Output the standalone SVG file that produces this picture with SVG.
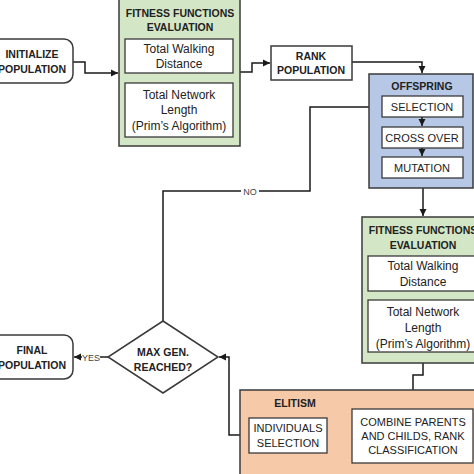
<svg xmlns="http://www.w3.org/2000/svg" width="474" height="474" viewBox="0 0 474 474">
<defs>
<marker id="ah" markerWidth="8" markerHeight="8" refX="7" refY="4" orient="auto" markerUnits="userSpaceOnUse">
<path d="M0,0.5 L7,4 L0,7.5 Z" fill="#1a1a1a"/>
</marker>
</defs>
<style>
.box{stroke:#3a3a3a;stroke-width:1.5}
.inner{fill:#ffffff;stroke:#3a3a3a;stroke-width:1.3}
.green{fill:#d3e6c6}
.blue{fill:#b6c8e6}
.orange{fill:#f6c9a8}
.white{fill:#ffffff}
.t{font-family:"Liberation Sans",Arial,sans-serif;font-size:11px;fill:#222;text-anchor:middle}
.m{font-size:12px}
.b{font-family:"Liberation Sans",Arial,sans-serif;font-size:10.5px;font-weight:bold;fill:#222;text-anchor:middle}
.lbl{font-family:"Liberation Sans",Arial,sans-serif;font-size:9px;fill:#444;text-anchor:middle}
.c{fill:none;stroke:#1a1a1a;stroke-width:1.5}
</style>
<rect width="474" height="474" fill="#ffffff"/>

<g id="connectors">
<path class="c" d="M73,62 H85 V73 H118" marker-end="url(#ah)"/>
<path class="c" d="M240,72 H252 V63 H270" marker-end="url(#ah)"/>
<path class="c" d="M352,62 H422 V73" marker-end="url(#ah)"/>
<path class="c" d="M423,188 V216" marker-end="url(#ah)"/>
<path class="c" d="M423,363 V375 H413 V408" marker-end="url(#ah)"/>
<path class="c" d="M352,437 H328" marker-end="url(#ah)"/>
<path class="c" d="M249,435 H229 V357 H219" marker-end="url(#ah)"/>
<path class="c" d="M110,357 H74" marker-end="url(#ah)"/>
<path class="c" d="M163,321 V191 H310 V107 H381" marker-end="url(#ah)"/>
<rect x="241" y="186" width="18" height="10" fill="#ffffff"/>
<text class="lbl" x="250" y="194.5">NO</text>
<rect x="82" y="352" width="18" height="10" fill="#ffffff"/>
<text class="lbl" x="91" y="360.5">YES</text>
</g>

<g id="initialize">
<rect class="box white" x="-20" y="39" width="93" height="44" rx="9"/>
<text class="b" x="32" y="58">INITIALIZE</text>
<text class="b" x="32" y="73">POPULATION</text>
</g>

<g id="fitness1">
<rect class="box green" x="119" y="-3" width="121" height="149"/>
<text class="b" x="180" y="17">FITNESS FUNCTIONS</text>
<text class="b" x="180" y="31">EVALUATION</text>
<rect class="inner" x="125" y="39" width="108" height="34"/>
<text class="t m" x="179" y="53">Total Walking</text>
<text class="t m" x="179" y="68">Distance</text>
<rect class="inner" x="125" y="83" width="108" height="54"/>
<text class="t m" x="179" y="99">Total Network</text>
<text class="t m" x="179" y="114">Length</text>
<text class="t m" x="179" y="130">(Prim’s Algorithm)</text>
</g>

<g id="rank">
<rect class="box white" x="271" y="46" width="81" height="34"/>
<text class="b" x="311" y="60">RANK</text>
<text class="b" x="311" y="74">POPULATION</text>
</g>

<g id="offspring">
<rect class="box blue" x="369" y="74" width="104" height="114"/>
<text class="b" x="422" y="90">OFFSPRING</text>
<rect class="inner" x="382" y="96" width="81" height="21"/>
<text class="t" x="422" y="110.5">SELECTION</text>
<rect class="inner" x="382" y="127" width="81" height="21"/>
<text class="t" x="422" y="141.5">CROSS OVER</text>
<rect class="inner" x="382" y="157" width="81" height="21"/>
<text class="t" x="422" y="171.5">MUTATION</text>
<path class="c" d="M422,117 V126" marker-end="url(#ah)"/>
<path class="c" d="M422,148 V156" marker-end="url(#ah)"/>
</g>

<g id="fitness2">
<rect class="box green" x="362" y="217" width="118" height="146"/>
<text class="b" x="423" y="234">FITNESS FUNCTIONS</text>
<text class="b" x="423" y="249">EVALUATION</text>
<rect class="inner" x="368" y="256" width="112" height="35"/>
<text class="t m" x="423" y="270">Total Walking</text>
<text class="t m" x="423" y="286">Distance</text>
<rect class="inner" x="368" y="300" width="112" height="52"/>
<text class="t m" x="423" y="316">Total Network</text>
<text class="t m" x="423" y="332">Length</text>
<text class="t m" x="423" y="348">(Prim’s Algorithm)</text>
</g>

<g id="elitism">
<rect class="box orange" x="240" y="390" width="240" height="90"/>
<text class="b" x="295" y="407">ELITISM</text>
<rect class="inner" x="249" y="418" width="78" height="35"/>
<text class="t" x="288" y="432">INDIVIDUALS</text>
<text class="t" x="288" y="447">SELECTION</text>
<rect class="inner" x="352" y="409" width="121" height="54"/>
<text class="t" x="413" y="426">COMBINE PARENTS</text>
<text class="t" x="413" y="440">AND CHILDS, RANK</text>
<text class="t" x="413" y="454">CLASSIFICATION</text>
</g>

<g id="maxgen">
<path class="box white" d="M163,321 L218,357 L163,393 L108,357 Z"/>
<text class="b" x="163" y="356">MAX GEN.</text>
<text class="b" x="163" y="371">REACHED?</text>
</g>

<g id="final">
<rect class="box white" x="-20" y="335" width="93" height="44" rx="9"/>
<text class="b" x="32" y="354">FINAL</text>
<text class="b" x="32" y="369">POPULATION</text>
</g>
</svg>
